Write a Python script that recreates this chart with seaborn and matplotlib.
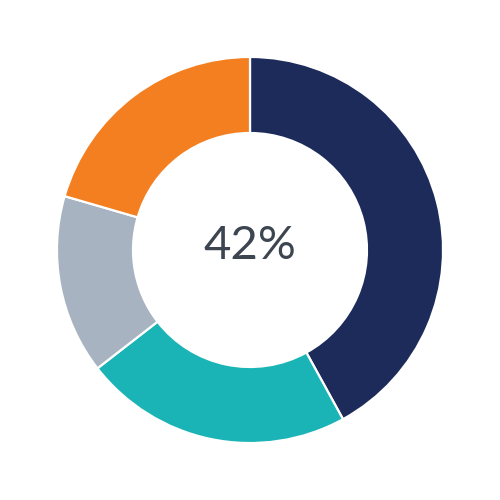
import matplotlib
matplotlib.use("Agg")
import matplotlib.pyplot as plt
import seaborn as sns

# Segment shares (percent), clockwise from 12 o'clock
labels = ["Navy", "Teal", "Grey", "Orange"]
shares = [42, 22.5, 15, 20.5]
colors = ["#1c2b5a", "#1bb4b6", "#a8b3c2", "#f47f20"]
center_text = "42%"

sns.set_theme(style="white")
plt.rcParams["font.family"] = ["Lato", "DejaVu Sans"]

fig = plt.figure(figsize=(5, 5), dpi=100)
ax = fig.add_axes([0, 0, 1, 1])

ax.pie(
    shares, colors=colors, startangle=90, counterclock=False,
    radius=1.0,
    wedgeprops=dict(width=0.394, edgecolor="white", linewidth=1.6),
)
ax.text(0, 0.02, center_text, ha="center", va="center",
        fontsize=34, color="#3d4550", fontweight="normal")

lim = 1.295
ax.set_xlim(-lim, lim)
ax.set_ylim(-lim, lim)
ax.set_aspect("equal")
ax.axis("off")

fig.savefig("out.png", dpi=100, facecolor="white")
